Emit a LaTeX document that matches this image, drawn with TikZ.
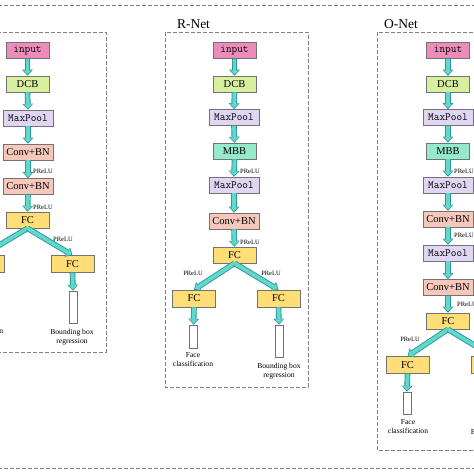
\documentclass[tikz,border=0pt]{standalone}
\usepackage{fontspec}
\setmainfont{Liberation Serif}
\usepackage{xcolor}
\usetikzlibrary{arrows.meta}
\definecolor{inpink}{RGB}{236,140,186}
\definecolor{dcbgreen}{RGB}{214,240,160}
\definecolor{poollav}{RGB}{224,214,244}
\definecolor{convsalmon}{RGB}{246,200,188}
\definecolor{mbbmint}{RGB}{150,234,204}
\definecolor{fcyellow}{RGB}{255,222,120}
\definecolor{flowdark}{RGB}{45,150,150}
\definecolor{flowcyan}{RGB}{96,216,206}
\tikzset{
  blk/.style={draw=black!55, line width=0.6pt, inner sep=0pt, minimum width=43pt, minimum height=16pt, font=\fontsize{10.5}{10.5}\selectfont},
  wide/.style={minimum width=50pt},
  mono/.style={font=\ttfamily\fontsize{11}{11}\selectfont},
  inbox/.style={blk, mono, fill=inpink},
  dcbbox/.style={blk, fill=dcbgreen},
  poolbox/.style={blk, wide, mono, fill=poollav},
  convbox/.style={blk, wide, fill=convsalmon},
  mbbbox/.style={blk, fill=mbbmint},
  fcbox/.style={blk, fill=fcyellow},
  fcsub/.style={fcbox, minimum height=17pt},
  outbar/.style={draw=black!55, fill=white, line width=0.6pt, inner sep=0pt, minimum width=8pt},
  prelu/.style={font=\fontsize{6.5}{6.5}\selectfont, inner sep=0pt},
  note/.style={font=\fontsize{7.6}{9}\selectfont, align=center, inner sep=0pt},
  title/.style={font=\fontsize{13.5}{13.5}\selectfont, inner sep=0pt},
  frame/.style={draw=black!50, line width=0.8pt, dash pattern=on 4pt off 2pt},
  flowout/.style={draw=flowdark, line width=5.6pt, line cap=butt, -{Triangle[length=6pt,width=10.5pt]}},
  flowin/.style={draw=flowcyan, line width=3.8pt, line cap=butt, shorten >=1.2pt, -{Triangle[length=4.2pt,width=7.8pt]}}
}
\newcommand{\flowarrow}[2]{\draw[flowout] (#1) -- (#2); \draw[flowin] (#1) -- (#2);}

\begin{document}
\begin{tikzpicture}[x=1pt, y=-1pt]
  \useasboundingbox (0,0) rectangle (474,474);
  \fill[white] (0,0) rectangle (474,474);
  \clip (0,0) rectangle (474,474);

  % frames
  \draw[frame] (-20,5) -- (494,5);
  \draw[frame] (-20,468) -- (494,468);
  \draw[frame] (-37,32) rectangle (106,352);
  \draw[frame] (165,32) rectangle (308,387);
  \draw[frame] (377,32) rectangle (520,450);
  \node[title] (rtitle) at (193.5,24) {R-Net};
  \node[title] (otitle) at (401,24) {O-Net};

  % P-Net
  \node[inbox] (pin) at (27.5,50.5) {input};
  \node[dcbbox] (pdcb) at (27.5,84) {DCB};
  \node[poolbox] (ppool) at (28,118) {MaxPool};
  \node[convbox] (pconva) at (28,152) {Conv+BN};
  \node[convbox] (pconvb) at (28,186.5) {Conv+BN};
  \node[fcbox] (pfc) at (27.5,220) {FC};
  \node[fcsub] (pfcl) at (-17.5,264) {FC};
  \node[fcsub] (pfcr) at (72.5,264) {FC};
  \node[outbar, minimum height=23pt] (pcls) at (-17,302.5) {};
  \node[outbar, minimum height=32pt] (preg) at (73,307) {};
  \node[note] (pclsl) at (-17,326.5) {Face\\classification};
  \node[note] (pregl) at (72,337.5) {Bounding box\\regression};
  \node[prelu, anchor=west] (ppr1) at (33,171) {PReLU};
  \node[prelu, anchor=west] (ppr2) at (33,207) {PReLU};
  \node[prelu, anchor=west] (ppr3) at (53,239) {PReLU};
  \flowarrow{pin.south}{pdcb.north}
  \flowarrow{pdcb.south}{ppool.north}
  \flowarrow{ppool.south}{pconva.north}
  \flowarrow{pconva.south}{pconvb.north}
  \flowarrow{pconvb.south}{pfc.north}
  \flowarrow{pfc.south}{pfcl.north}
  \flowarrow{pfc.south}{pfcr.north}
  \flowarrow{pfcl.south}{pcls.north}
  \flowarrow{pfcr.south}{preg.north}

  % R-Net
  \node[inbox] (rin) at (234.5,50.5) {input};
  \node[dcbbox] (rdcb) at (234.5,84) {DCB};
  \node[poolbox] (rpoola) at (234,117.5) {MaxPool};
  \node[mbbbox] (rmbb) at (234.5,151) {MBB};
  \node[poolbox] (rpoolb) at (234,185) {MaxPool};
  \node[convbox] (rconv) at (234,221) {Conv+BN};
  \node[fcbox] (rfc) at (234.5,255) {FC};
  \node[fcsub] (rfcl) at (194,298.5) {FC};
  \node[fcsub] (rfcr) at (278.5,298.5) {FC};
  \node[outbar, minimum height=23pt] (rcls) at (193.5,336.5) {};
  \node[outbar, minimum height=32pt] (rreg) at (279,341) {};
  \node[note] (rclsl) at (193,359.5) {Face\\classification};
  \node[note] (rregl) at (279,371) {Bounding box\\regression};
  \node[prelu, anchor=west] (rpr1) at (240,171) {PReLU};
  \node[prelu, anchor=west] (rpr2) at (240,242) {PReLU};
  \node[prelu] (rpr3) at (193,273) {PReLU};
  \node[prelu] (rpr4) at (271,273) {PReLU};
  \flowarrow{rin.south}{rdcb.north}
  \flowarrow{rdcb.south}{rpoola.north}
  \flowarrow{rpoola.south}{rmbb.north}
  \flowarrow{rmbb.south}{rpoolb.north}
  \flowarrow{rpoolb.south}{rconv.north}
  \flowarrow{rconv.south}{rfc.north}
  \flowarrow{rfc.south}{rfcl.north}
  \flowarrow{rfc.south}{rfcr.north}
  \flowarrow{rfcl.south}{rcls.north}
  \flowarrow{rfcr.south}{rreg.north}

  % O-Net
  \node[inbox] (oin) at (448,50.5) {input};
  \node[dcbbox] (odcb) at (448,84) {DCB};
  \node[poolbox] (opoola) at (448,117.5) {MaxPool};
  \node[mbbbox] (ombb) at (448,151) {MBB};
  \node[poolbox] (opoolb) at (448,185) {MaxPool};
  \node[convbox] (oconva) at (448,219) {Conv+BN};
  \node[poolbox] (opoolc) at (448,253) {MaxPool};
  \node[convbox] (oconvb) at (448,287.5) {Conv+BN};
  \node[fcbox] (ofc) at (448,321) {FC};
  \node[fcsub] (ofcl) at (407.5,365) {FC};
  \node[fcsub] (ofcr) at (492.5,365) {FC};
  \node[outbar, minimum height=22pt] (ocls) at (407,403) {};
  \node[outbar, minimum height=31pt] (oreg) at (492.5,407.5) {};
  \node[note] (oclsl) at (408,426.5) {Face\\classification};
  \node[note] (oregl) at (492.5,437.5) {Bounding box\\regression};
  \node[prelu, anchor=west] (opr1) at (454,171) {PReLU};
  \node[prelu, anchor=west] (opr2) at (454,235) {PReLU};
  \node[prelu, anchor=west] (opr3) at (457,304) {PReLU};
  \node[prelu] (opr4) at (410,339) {PReLU};
  \flowarrow{oin.south}{odcb.north}
  \flowarrow{odcb.south}{opoola.north}
  \flowarrow{opoola.south}{ombb.north}
  \flowarrow{ombb.south}{opoolb.north}
  \flowarrow{opoolb.south}{oconva.north}
  \flowarrow{oconva.south}{opoolc.north}
  \flowarrow{opoolc.south}{oconvb.north}
  \flowarrow{oconvb.south}{ofc.north}
  \flowarrow{ofc.south}{ofcl.north}
  \flowarrow{ofc.south}{ofcr.north}
  \flowarrow{ofcl.south}{ocls.north}
  \flowarrow{ofcr.south}{oreg.north}
\end{tikzpicture}
\end{document}
